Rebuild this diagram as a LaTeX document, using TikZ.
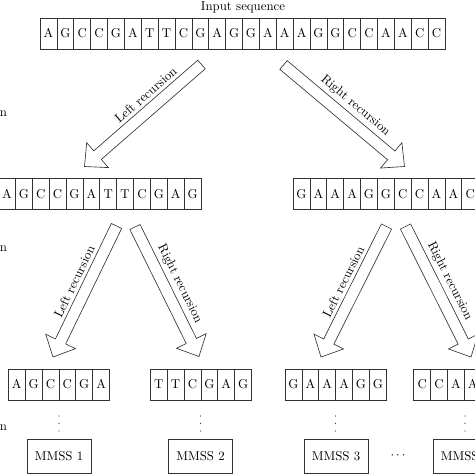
\documentclass[tikz,border=0pt]{standalone}
\usetikzlibrary{calc}
\tikzset{
  cell/.style={draw=black!80, line width=0.5pt, minimum width=13.16pt, minimum height=24.2pt,
    inner sep=0pt, text height=6.83pt, text depth=0pt},
  resbox/.style={draw=black!80, line width=0.5pt, minimum width=49.9pt, minimum height=26.5pt, inner sep=0pt},
  fatarrowstyle/.style={draw=black!80, line width=0.5pt, fill=white, line join=miter},
  arrowlabel/.style={sloped, above, inner sep=7pt},
  cutlabel/.style={inner sep=0pt},
  dotmark/.style={circle, fill=black!80, inner sep=0pt, minimum size=1.1pt}
}
\newcommand{\cellrow}[4]{%
  \foreach \c [count=\i] in {#4} \node[cell] (#1-\i) at ({#2+(\i-0.5)*16.875},#3) {\c};
}
\newcommand{\fatarrow}[2]{%
  \coordinate (#1-b) at ($(#2)!13.5pt!(#1)$);
  \draw[fatarrowstyle] ($(#1)!4.45pt!90:(#2)$) -- ($(#1-b)!4.45pt!90:(#2)$) -- ($(#1-b)!12.9pt!90:(#2)$) -- (#2) -- ($(#1-b)!12.9pt!-90:(#2)$) -- ($(#1-b)!4.45pt!-90:(#2)$) -- ($(#1)!4.45pt!-90:(#2)$) -- cycle;
}
\newcommand{\vdotsat}[3]{% name, x, y
  \node[dotmark] (#1a) at (#2,#3-7.5) {};
  \node[dotmark] (#1b) at (#2,#3) {};
  \node[dotmark] (#1c) at (#2,#3+7.5) {};
}
\begin{document}
\begin{tikzpicture}[x=0.78pt, y=-0.78pt]
\useasboundingbox (0,0) rectangle (474,474);

% title
\node (title) at (243,7.5) {Input sequence};

% rows
\cellrow{top}{40}{33.5}{A,G,C,C,G,A,T,T,C,G,A,G,G,A,A,A,G,G,C,C,A,A,C,C}
\cellrow{ml}{-1.5}{194}{A,G,C,C,G,A,T,T,C,G,A,G}
\cellrow{mr}{293}{194}{G,A,A,A,G,G,C,C,A,A,C,C}
\cellrow{la}{8.3}{384.5}{A,G,C,C,G,A}
\cellrow{lb}{150.3}{384.5}{T,T,C,G,A,G}
\cellrow{lc}{285}{384.5}{G,A,A,A,G,G}
\cellrow{ld}{413.7}{384.5}{C,C,A,A,C,C}

% cut-off side labels
\node[cutlabel] (n1) at (3.5,114) {n};
\node[cutlabel] (n2) at (3.5,249) {n};
\node[cutlabel] (n3) at (3.5,428) {n};

% arrows, level 1
\coordinate (L1) at (201.5,64.5);  \coordinate (L1t) at (84.5,166.5);
\coordinate (R1) at (283.5,65);    \coordinate (R1t) at (404.5,166.5);
\fatarrow{L1}{L1t}
\fatarrow{R1}{R1t}
\path (L1) -- (L1t) node[arrowlabel, pos=0.40] {Left recursion};
\path (R1) -- (R1t) node[arrowlabel, pos=0.515] {Right recursion};

% arrows, level 2
\coordinate (LL) at (116.5,226);   \coordinate (LLt) at (53,357);
\coordinate (LR) at (135,227);     \coordinate (LRt) at (199,356.5);
\coordinate (RL) at (386.5,226.5); \coordinate (RLt) at (321,357);
\coordinate (RR) at (405.5,226.5); \coordinate (RRt) at (471,357);
\fatarrow{LL}{LLt}
\fatarrow{LR}{LRt}
\fatarrow{RL}{RLt}
\fatarrow{RR}{RRt}
\path (LL) -- (LLt) node[arrowlabel, pos=0.47] {Left recursion};
\path (LR) -- (LRt) node[arrowlabel, pos=0.49] {Right recursion};
\path (RL) -- (RLt) node[arrowlabel, pos=0.47] {Left recursion};
\path (RR) -- (RRt) node[arrowlabel, pos=0.47] {Right recursion};

% vertical dots
\vdotsat{d1}{59}{423.5}
\vdotsat{d2}{200.5}{423.5}
\vdotsat{d3}{335.5}{423.5}
\vdotsat{d4}{465}{423.5}

% results
\node[resbox] (m1) at (59,456) {MMSS 1};
\node[resbox] (m2) at (200.5,456) {MMSS 2};
\node[resbox] (m3) at (336,456) {MMSS 3};
\node[resbox] (m4) at (465,456) {MMSS 4};
\node[inner sep=0pt] (hd) at (398,456) {$\cdots$};
\end{tikzpicture}
\end{document}
